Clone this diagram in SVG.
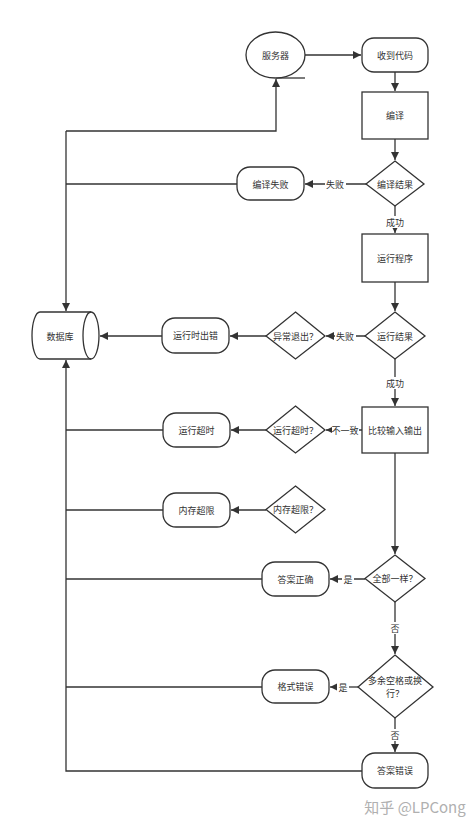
<svg xmlns="http://www.w3.org/2000/svg" width="474" height="830" viewBox="0 0 474 830">
<defs>
<marker id="arr" markerUnits="userSpaceOnUse" markerWidth="9" markerHeight="9" refX="8" refY="4" orient="auto">
<path d="M0,0 L8,4 L0,8 Z" fill="#333"/>
</marker>
<style>
.n{fill:#fff;stroke:#333;stroke-width:1.3}
.t{font-family:"Noto Sans CJK SC","Noto Sans",sans-serif;font-size:9px;fill:#333;text-anchor:middle;dominant-baseline:central}
.c{fill:none;stroke:#333;stroke-width:1.3}
.a{marker-end:url(#arr)}
.lb{fill:#fff}
</style>
</defs>
<rect width="474" height="830" fill="#fff"/>
<g id="connectors">
<path class="c a" d="M305,55 L361,55"/>
<path class="c a" d="M395,72 L395,91"/>
<path class="c a" d="M395,139 L395,160"/>
<path class="c a" d="M366,184 L305,184"/>
<path class="c" d="M237,184 L66,184"/>
<path class="c a" d="M395,206 L395,233"/>
<path class="c a" d="M395,282 L395,311"/>
<path class="c a" d="M365,336 L326,336"/>
<path class="c a" d="M266,336 L230,336"/>
<path class="c a" d="M162,336 L100,336"/>
<path class="c a" d="M395,359 L395,406"/>
<path class="c a" d="M362,430 L326,430"/>
<path class="c a" d="M266,430 L231,430"/>
<path class="c" d="M163,430 L66,430"/>
<path class="c a" d="M266,510 L231,510"/>
<path class="c" d="M163,510 L66,510"/>
<path class="c a" d="M395,453 L395,554"/>
<path class="c a" d="M365,579 L330,579"/>
<path class="c" d="M262,579 L66,579"/>
<path class="c a" d="M395,602 L395,654"/>
<path class="c a" d="M358,687 L330,687"/>
<path class="c" d="M262,687 L66,687"/>
<path class="c a" d="M395,718 L395,752"/>
<path class="c a" d="M362,771 L66,771 L66,360"/>
<path class="c a" d="M66,131 L66,311"/>
<path class="c a" d="M66,131 L276,131 L276,79"/>
<path class="c" d="M276,78 L305,78"/>
<rect class="lb" x="325" y="178" width="21" height="12"/>
<text class="t" x="335" y="184">失败</text>
<rect class="lb" x="385" y="216" width="21" height="12"/>
<text class="t" x="395" y="222">成功</text>
<rect class="lb" x="335" y="330" width="21" height="12"/>
<text class="t" x="345" y="336">失败</text>
<rect class="lb" x="385" y="377" width="21" height="12"/>
<text class="t" x="395" y="383">成功</text>
<rect class="lb" x="332" y="424" width="27" height="12"/>
<text class="t" x="345" y="430">不一致</text>
<rect class="lb" x="342" y="573" width="12" height="12"/>
<text class="t" x="348" y="579">是</text>
<rect class="lb" x="389" y="622" width="12" height="12"/>
<text class="t" x="395" y="628">否</text>
<rect class="lb" x="337" y="681" width="12" height="12"/>
<text class="t" x="343" y="687">是</text>
<rect class="lb" x="389" y="729" width="12" height="12"/>
<text class="t" x="395" y="735">否</text>
</g>
<g id="server"><ellipse class="n" cx="275.5" cy="55" rx="29.5" ry="23"/><text class="t" x="275.5" y="55">服务器</text></g>
<g id="recv"><rect class="n" x="362" y="38" width="66" height="34" rx="12"/><text class="t" x="395" y="55">收到代码</text></g>
<g id="compile"><rect class="n" x="362" y="92" width="66" height="47"/><text class="t" x="395" y="115.5">编译</text></g>
<g id="compileResult"><path class="n" d="M395,161 L424,184 L395,206 L366,184 Z"/><text class="t" x="395" y="184">编译结果</text></g>
<g id="compileFail"><rect class="n" x="237" y="167" width="67" height="33" rx="13"/><text class="t" x="270.5" y="184">编译失败</text></g>
<g id="run"><rect class="n" x="362" y="234" width="66" height="48"/><text class="t" x="395" y="258">运行程序</text></g>
<g id="runResult"><path class="n" d="M395,312 L425,336 L395,359 L365,336 Z"/><text class="t" x="395" y="336">运行结果</text></g>
<g id="abnormal"><path class="n" d="M295.5,312 L325,336 L295.5,359 L266,336 Z"/><text class="t" x="295.5" y="336">异常退出？</text></g>
<g id="runtimeErr"><rect class="n" x="162" y="318" width="67" height="35" rx="13"/><text class="t" x="195.5" y="335.5">运行时出错</text></g>
<g id="db"><path class="n" d="M40,312 L91,312 A8,23.5 0 0 1 91,359 L40,359 A8,23.5 0 0 1 40,312 Z"/><path class="c" d="M91,312 A8,23.5 0 0 0 91,359"/><text class="t" x="60" y="336">数据库</text></g>
<g id="compare"><rect class="n" x="362" y="407" width="66" height="46"/><text class="t" x="395" y="430">比较输入输出</text></g>
<g id="timeoutQ"><path class="n" d="M295.5,406 L325,430 L295.5,453 L266,430 Z"/><text class="t" x="295.5" y="430">运行超时？</text></g>
<g id="timeout"><rect class="n" x="163" y="413" width="67" height="34" rx="13"/><text class="t" x="196.5" y="430">运行超时</text></g>
<g id="memQ"><path class="n" d="M295.5,486 L325,509.5 L295.5,533 L266,509.5 Z"/><text class="t" x="295.5" y="509.5">内存超限？</text></g>
<g id="mem"><rect class="n" x="163" y="493" width="67" height="34" rx="13"/><text class="t" x="196.5" y="510">内存超限</text></g>
<g id="allSame"><path class="n" d="M395,555 L425,578.5 L395,602 L365,578.5 Z"/><text class="t" x="395" y="578.5">全部一样？</text></g>
<g id="correct"><rect class="n" x="262" y="562" width="67" height="34" rx="13"/><text class="t" x="295.5" y="579">答案正确</text></g>
<g id="extraSpace"><path class="n" d="M395,655 L433,687 L395,718 L358,687 Z"/><text class="t" x="395" y="680.5">多余空格或换</text><text class="t" x="395" y="693.5">行？</text></g>
<g id="format"><rect class="n" x="262" y="670" width="67" height="33" rx="13"/><text class="t" x="295.5" y="686.5">格式错误</text></g>
<g id="wrong"><rect class="n" x="362" y="753" width="66" height="35" rx="13"/><text class="t" x="395" y="770.5">答案错误</text></g>
<text x="415" y="813" font-family="Noto Sans CJK SC, Noto Sans, sans-serif" font-size="15" fill="#b0b0b0" text-anchor="middle">知乎 @LPCong</text>
</svg>
